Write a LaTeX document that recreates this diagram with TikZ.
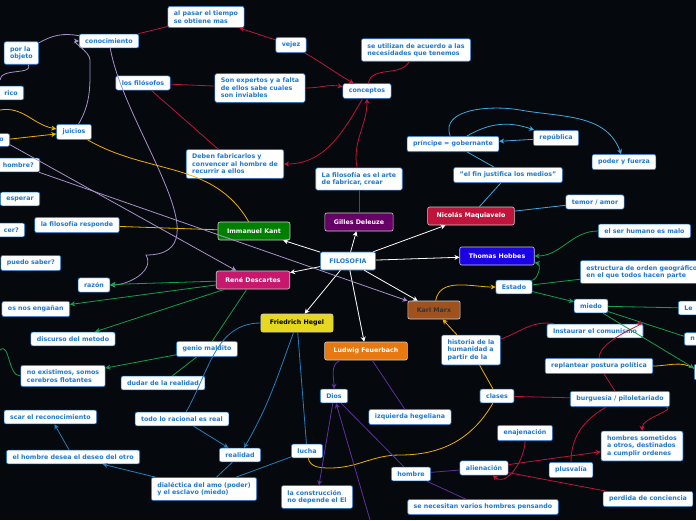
\documentclass[tikz,border=0pt]{standalone}
\usepackage{fontspec}
\setmainfont{DejaVu Sans}
\usetikzlibrary{arrows.meta}
\definecolor{bg}{HTML}{05080C}
\definecolor{tb}{HTML}{1E78D2}
\definecolor{rd}{HTML}{C0143C}
\definecolor{lil}{HTML}{A890C8}
\definecolor{yl}{HTML}{F0B000}
\definecolor{gr}{HTML}{10A050}
\definecolor{bl}{HTML}{2080C0}
\definecolor{lb}{HTML}{40A8E0}
\definecolor{pu}{HTML}{6030A0}
\tikzset{
 wb/.style={draw=tb,fill=white,rounded corners=2pt,line width=0.6pt,text=tb,font=\fontsize{6.3}{7.4}\selectfont\bfseries,inner xsep=6pt,inner ysep=4.5pt,align=left},
 mb/.style={draw=white!80!black,rounded corners=2pt,line width=0.6pt,text=white,font=\fontsize{6.3}{7.4}\selectfont\bfseries,inner xsep=9pt,inner ysep=4pt,minimum height=18pt},
 ar/.style={-{Stealth[length=5pt,width=5pt]}},
 c/.style={line width=0.8pt}
}
\begin{document}
\begin{tikzpicture}[x=1pt,y=-1pt]
\fill[bg] (0,0) rectangle (696,520);
\clip (0,0) rectangle (696,520);
% main nodes
\node[mb,fill=white,text=tb,draw=tb] (fil) at (348,261) {FILOSOFIA};
\node[mb,fill=green!50!black] (kant) at (254,231) {Immanuel Kant};
\node[mb,fill=violet!80!black] (del) at (359,222) {Gilles Deleuze};
\node[mb,fill=rd] (maq) at (471,216) {Nicolás Maquiavelo};
\node[mb,fill=blue!80!violet] (hob) at (497,256) {Thomas Hobbes};
\node[mb,fill={rgb,255:red,200;green,24;blue,110}] (des) at (253,280) {René Descartes};
\node[mb,fill={rgb,255:red,160;green,82;blue,30},text=black!80] (marx) at (434,310) {Karl Marx};
\node[mb,fill={rgb,255:red,230;green,216;blue,32},text=black] (heg) at (297,323) {Friedrich Hegel};
\node[mb,fill={rgb,255:red,232;green,120;blue,16}] (feu) at (366,351) {Ludwig Feuerbach};
% white nodes
\node[wb] (con) at (109,41) {conocimiento};
\node[wb] (pas) at (206,17) {al pasar el tiempo\\se obtiene mas};
\node[wb] (vej) at (291,45) {vejez};
\node[wb] (cep) at (367,91) {conceptos};
\node[wb] (uti) at (416,50) {se utilizan de acuerdo a las\\necesidades que tenemos};
\node[wb] (lfil) at (143,83) {los filósofos};
\node[wb] (exp) at (260,88) {Son expertos y a falta\\de ellos sabe cuales\\son inviables};
\node[wb] (deb) at (235,164) {Deben fabricarlos y\\convencer al hombre de\\recurrir a ellos};
\node[wb] (arte) at (359,179) {La filosofía es el arte\\de fabricar, crear};
\node[wb] (jui) at (74,132) {juicios};
\node[wb] (resp) at (77,225) {la filosofía responde};
\node[wb,anchor=east] (pla) at (39,53) {por la\\objeto};
\node[wb,anchor=east] (rico) at (24,93) {rico};
\node[wb,anchor=east] (oo) at (10,140) {o};
\node[wb,anchor=east] (hom) at (40,165) {hombre?};
\node[wb,anchor=east] (esp) at (40,199) {esperar};
\node[wb,anchor=east] (cer) at (25,230) {cer?};
\node[wb,anchor=east] (pue) at (61,263) {puedo saber?};
\node[wb] (raz) at (94,285) {razón};
\node[wb,anchor=east] (eng) at (70,309) {os nos engañan};
\node[wb] (disc) at (73,339) {discurso del metodo};
\node[wb] (gen) at (207,349) {genio maldito};
\node[wb] (noe) at (63,376) {no existimos, somos\\cerebros flotantes};
\node[wb] (dud) at (163,383) {dudar de la realidad};
\node[wb,anchor=east] (rec) at (97,417) {scar el reconocimiento};
\node[wb] (rac) at (182,419) {todo lo racional es real};
\node[wb,anchor=east] (des2) at (140,457) {el hombre desea el deseo del otro};
\node[wb] (rea) at (240,455) {realidad};
\node[wb] (luc) at (307,451) {lucha};
\node[wb] (dia) at (204,489) {dialéctica del amo (poder)\\y el esclavo (miedo)};
\node[wb] (cons) at (317,497) {la construcción\\no depende el El};
\node[wb] (dios) at (334,396) {Dios};
\node[wb] (izq) at (410,417) {izquierda hegeliana};
\node[wb] (hbr) at (411,474) {hombre};
\node[wb] (ali) at (484,468) {alienación};
\node[wb] (ena) at (525,433) {enajenación};
\node[wb] (nec) at (483,507) {se necesitan varios hombres pensando};
\node[wb] (cla) at (497,396) {clases};
\node[wb] (his) at (471,350) {historia de la\\humanidad a\\partir de la};
\node[wb] (est) at (514,287) {Estado};
\node[wb] (mie) at (591,306) {miedo};
\node[wb] (ins) at (595,331) {Instaurar el comunismo};
\node[wb] (rep) at (599,366) {replantear postura política};
\node[wb] (bur) at (620,399) {burguesía / piloletariado};
\node[wb] (som) at (642,446) {hombres sometidos\\a otros, destinados\\a cumplir ordenes};
\node[wb] (plu) at (571,470) {plusvalía};
\node[wb] (per) at (648,499) {perdida de conciencia};
\node[wb,anchor=west] (estr) at (580,272) {estructura de orden geográfico\\en el que todos hacen parte};
\node[wb,anchor=west] (le) at (678,308) {Le};
\node[wb,anchor=west] (nn) at (684,339) {n};
\node[wb,anchor=west,minimum width=12pt,minimum height=16pt] (xx) at (694,372) {};
\node[wb] (pri) at (453,144) {príncipe = gobernante};
\node[wb] (rep2) at (556,138) {república};
\node[wb] (pod) at (624,162) {poder y fuerza};
\node[wb] (fin) at (508,175) {"el fin justifica los medios"};
\node[wb] (tem) at (595,202) {temor / amor};
\node[wb,anchor=west] (mal) at (598,231) {el ser humano es malo};
% white connectors
\begin{scope}[white,c,ar]
\draw (fil) -- (kant);\draw (fil) -- (del);\draw (fil) -- (maq);\draw (fil) -- (hob);
\draw (fil) -- (des);\draw (fil) -- (marx);\draw (fil) -- (heg);\draw (fil) -- (feu);
\end{scope}
% red (Deleuze)
\begin{scope}[rd,c]
\draw (del) -- (arte);
\draw[ar] (arte) to[out=100,in=-90] (cep);
\draw (cep) to[out=80,in=-120] (uti);
\draw[ar] (cep) to[out=-120,in=0] (deb);
\draw[ar] (vej) to[out=-30,in=150] (cep);
\draw[ar] (vej) -- (pas);
\draw (pas) -- (con);
\draw (lfil) -- (exp);
\draw[ar] (exp) to[out=0,in=170] (cep);
\draw (lfil) -- (deb);
\end{scope}
% lilac
\begin{scope}[lil,c]
\draw[ar] (jui) to[out=60,in=-90] (90,60) to[out=90,in=180] (con);
\draw[ar] (con) to[out=-80,in=0] (146,255) to[out=-60,in=0] (raz);
\draw[ar] (hom) -- (marx);
\draw[ar] (oo) -- (des);
\draw (pla) to[out=-60,in=90] (0,80);
\draw (con) to[out=170,in=30] (pla);
\end{scope}
% yellow
\begin{scope}[yl,c]
\draw (kant) to[out=120,in=-30] (jui);
\draw (kant) -- (resp);
\draw[ar] (oo) -- (jui);
\draw[ar] (0,110) to[out=10,in=170] (jui);
\draw[ar] (his) -- (marx);
\draw[ar] (marx) to[out=80,in=180] (est);
\draw (cla) -- (his);
\draw (cla) to[out=-120,in=0] (400,455) to[out=180,in=0] (330,468) to[out=180,in=-80] (luc);
\draw (rep) to[out=0,in=150] (xx);
\end{scope}
% green
\begin{scope}[gr,c]
\draw[ar] (des) -- (raz);
\draw[ar] (des) -- (eng);
\draw[ar] (des) -- (disc);
\draw (des) -- (gen);
\draw (gen) -- (dud);
\draw[ar] (gen) -- (noe);
\draw (noe) to[out=180,in=40] (0,350);
\draw[ar] (mal) to[out=180,in=0] (hob);
\draw[ar] (est) to[out=20,in=-10] (hob);
\draw[ar] (est) -- (mie);
\draw (est) -- (estr);
\draw (mie) -- (le);
\draw (mie) -- (nn);
\draw[ar] (mie) -- (xx);
\end{scope}
% blue (Hegel)
\begin{scope}[bl,c]
\draw (heg) to[out=180,in=60] (rac);
\draw[ar] (rac) -- (rea);
\draw[ar] (heg) to[out=-110,in=60] (rea);
\draw (heg) -- (luc);
\draw (luc) -- (dia);
\draw (dia) -- (rea);
\draw[ar] (dia) -- (des2);
\draw[ar] (des2) -- (rec);
\end{scope}
% light blue (Maquiavelo)
\begin{scope}[lb,c]
\draw (maq) -- (fin);
\draw (fin) -- (pri);
\draw[ar] (rep2) -- (pri);
\draw[ar] (pri) to[out=30,in=160] (rep2);
\draw[ar] (pri) to[out=110,in=170] (520,110) to[out=-10,in=110] (pod);
\draw (maq) -- (tem);
\end{scope}
% purple (Feuerbach)
\begin{scope}[pu,c]
\draw[ar] (feu) to[out=-160,in=90] (dios);
\draw[ar] (dios) -- (cons);
\draw (dios) -- (hbr);
\draw (feu) -- (izq);
\draw (hbr) -- (ali);
\draw (hbr) -- (nec);
\draw[ar] (370,520) -- (dios);
\end{scope}
% red (Marx)
\begin{scope}[rd,c]
\draw (cla) -- (bur);
\draw[ar] (bur) to[out=-10,in=90] (som);
\draw (plu) to[out=90,in=-150] (bur);
\draw[ar] (ali) -- (som);
\draw (ali) -- (per);
\draw[ar] (ena) to[out=-90,in=-40] (ali);
\draw[ar] (rep) to[out=90,in=10] (ins);
\draw (ins) to[out=170,in=20] (his);
\draw (bur) -- (rep);
\end{scope}
\end{tikzpicture}
\end{document}
